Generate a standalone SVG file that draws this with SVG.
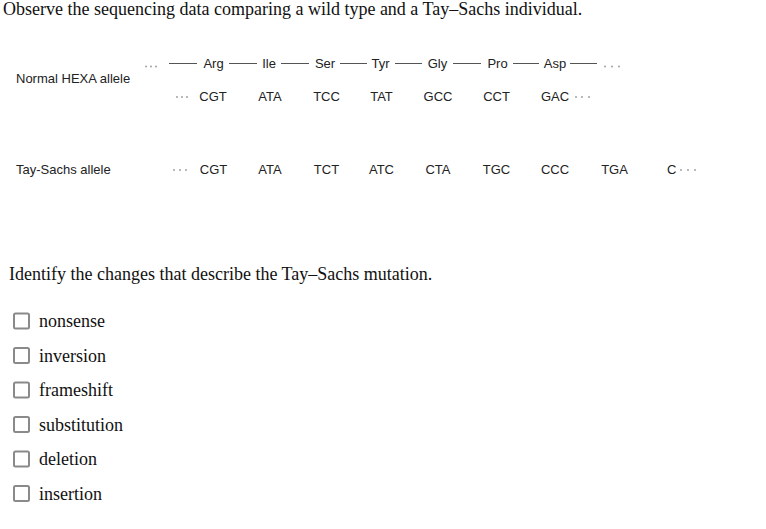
<svg xmlns="http://www.w3.org/2000/svg" width="766" height="529" viewBox="0 0 766 529">
<style>
.serif{font-family:"Liberation Serif","Times New Roman",serif;font-size:18px;fill:#111}
.sans{font-family:"Liberation Sans",Arial,sans-serif;font-size:13px;fill:#222}
.mid{text-anchor:middle}
.ln{stroke:#555;stroke-width:1;fill:none}
.dot{fill:#999}
.box{fill:#fff;stroke:#8a8a8a;stroke-width:2}
</style>
<rect width="766" height="529" fill="#fff"/>
<text class="serif" x="3" y="15">Observe the sequencing data comparing a wild type and a Tay–Sachs individual.</text>

<g id="labels">
<text class="sans" x="16" y="82.5">Normal HEXA allele</text>
<text class="sans" x="16" y="174">Tay-Sachs allele</text>
</g>

<g id="amino-acids">
<text class="sans mid" x="213.5" y="68">Arg</text>
<text class="sans mid" x="269" y="68">Ile</text>
<text class="sans mid" x="325" y="68">Ser</text>
<text class="sans mid" x="380.5" y="68">Tyr</text>
<text class="sans mid" x="437.5" y="68">Gly</text>
<text class="sans mid" x="497.5" y="68">Pro</text>
<text class="sans mid" x="555" y="68">Asp</text>
</g>

<g id="connectors">
<line class="ln" x1="169" y1="63.5" x2="197" y2="63.5"/>
<line class="ln" x1="229" y1="63.5" x2="257" y2="63.5"/>
<line class="ln" x1="281" y1="63.5" x2="309" y2="63.5"/>
<line class="ln" x1="340" y1="63.5" x2="367" y2="63.5"/>
<line class="ln" x1="395" y1="63.5" x2="422" y2="63.5"/>
<line class="ln" x1="453" y1="63.5" x2="481" y2="63.5"/>
<line class="ln" x1="513" y1="63.5" x2="539" y2="63.5"/>
<line class="ln" x1="570" y1="63.5" x2="597" y2="63.5"/>
</g>

<g id="dots">
<circle class="dot" cx="146" cy="66.5" r="0.9"/><circle class="dot" cx="151" cy="66.5" r="0.9"/><circle class="dot" cx="156" cy="66.5" r="0.9"/>
<circle class="dot" cx="605" cy="66.5" r="0.9"/><circle class="dot" cx="612" cy="66.5" r="0.9"/><circle class="dot" cx="619" cy="66.5" r="0.9"/>
<circle class="dot" cx="177" cy="97" r="0.9"/><circle class="dot" cx="182" cy="97" r="0.9"/><circle class="dot" cx="187" cy="97" r="0.9"/>
<circle class="dot" cx="576" cy="97" r="0.9"/><circle class="dot" cx="582" cy="97" r="0.9"/><circle class="dot" cx="589" cy="97" r="0.9"/>
<circle class="dot" cx="174" cy="170" r="0.9"/><circle class="dot" cx="180" cy="170" r="0.9"/><circle class="dot" cx="186" cy="170" r="0.9"/>
<circle class="dot" cx="681" cy="170" r="0.9"/><circle class="dot" cx="688" cy="170" r="0.9"/><circle class="dot" cx="695" cy="170" r="0.9"/>
</g>

<g id="normal-codons">
<text class="sans mid" x="213" y="100.5">CGT</text>
<text class="sans mid" x="270" y="100.5">ATA</text>
<text class="sans mid" x="326.5" y="100.5">TCC</text>
<text class="sans mid" x="381.5" y="100.5">TAT</text>
<text class="sans mid" x="438" y="100.5">GCC</text>
<text class="sans mid" x="496.5" y="100.5">CCT</text>
<text class="sans mid" x="555" y="100.5">GAC</text>
</g>

<g id="taysachs-codons">
<text class="sans mid" x="213.5" y="174">CGT</text>
<text class="sans mid" x="270" y="174">ATA</text>
<text class="sans mid" x="326.5" y="174">TCT</text>
<text class="sans mid" x="381.5" y="174">ATC</text>
<text class="sans mid" x="438" y="174">CTA</text>
<text class="sans mid" x="496.5" y="174">TGC</text>
<text class="sans mid" x="555" y="174">CCC</text>
<text class="sans mid" x="614.5" y="174">TGA</text>
<text class="sans" x="667" y="174">C</text>
</g>

<text class="serif" x="9" y="280">Identify the changes that describe the Tay–Sachs mutation.</text>

<g id="options">
<g id="opt-nonsense"><rect class="box" x="14" y="313.5" width="15" height="15" rx="1.5"/><text class="serif" x="39" y="327">nonsense</text></g>
<g id="opt-inversion"><rect class="box" x="14" y="348" width="15" height="15" rx="1.5"/><text class="serif" x="39" y="361.5">inversion</text></g>
<g id="opt-frameshift"><rect class="box" x="14" y="382.5" width="15" height="15" rx="1.5"/><text class="serif" x="39" y="396">frameshift</text></g>
<g id="opt-substitution"><rect class="box" x="14" y="417" width="15" height="15" rx="1.5"/><text class="serif" x="39" y="430.5">substitution</text></g>
<g id="opt-deletion"><rect class="box" x="14" y="451.5" width="15" height="15" rx="1.5"/><text class="serif" x="39" y="465">deletion</text></g>
<g id="opt-insertion"><rect class="box" x="14" y="486" width="15" height="15" rx="1.5"/><text class="serif" x="39" y="499.5">insertion</text></g>
</g>
</svg>
